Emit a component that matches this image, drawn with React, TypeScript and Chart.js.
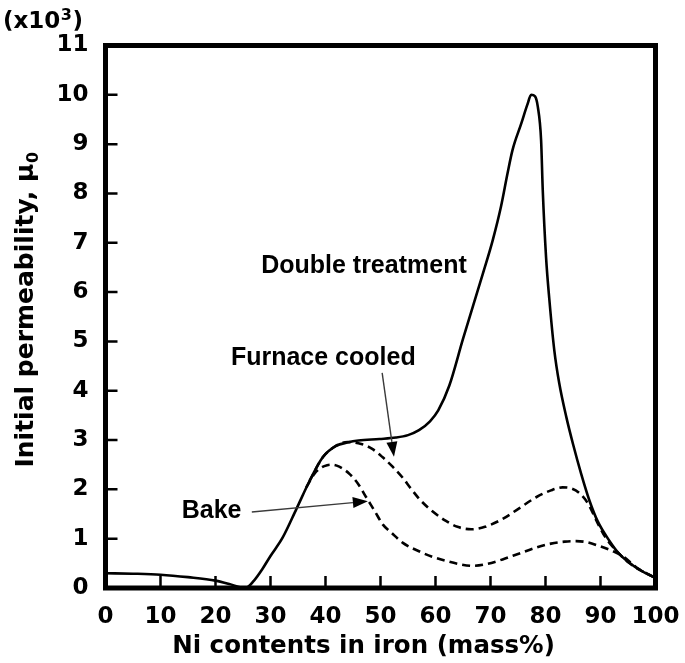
import React, { useEffect, useRef } from "react";
import { Chart, registerables } from "chart.js";

Chart.register(...registerables);

// Ni content in iron (mass%) against initial permeability (x10^3)
const NI_DOUBLE = [0, 5, 10, 15, 20, 22.5, 25.5, 27, 28.5, 30, 32.2, 34.7, 37.1, 39.5, 41.9, 44, 46, 49.8, 52.8, 55, 57, 59, 60.5, 62.5, 65, 68.6, 70.4, 71.9, 73.1, 74, 75.6, 76.7, 77.4, 78.1, 78.6, 79.2, 79.5, 80.1, 80.7, 81.6, 82.5, 83.8, 85, 86.5, 88, 89.5, 91.6, 93.5, 96.5, 100];
const MU_DOUBLE = [0.3, 0.29, 0.27, 0.22, 0.15, 0.08, 0.0, 0.15, 0.38, 0.65, 1.02, 1.6, 2.17, 2.65, 2.88, 2.95, 2.99, 3.02, 3.05, 3.1, 3.2, 3.38, 3.6, 4.1, 5.05, 6.37, 7.05, 7.73, 8.41, 8.88, 9.42, 9.8, 10.0, 9.97, 9.76, 9.08, 8.07, 6.71, 5.85, 4.82, 4.15, 3.46, 2.92, 2.31, 1.77, 1.35, 0.96, 0.68, 0.41, 0.2];

const NI_FURNACE = [37.1, 39.5, 41.9, 44, 46.5, 48.5, 50.4, 52.2, 54, 55.5, 57.1, 59.5, 61.9, 64, 66.5, 69, 72.2, 75, 78.3, 81, 83.1, 84.7, 86.2, 87.8, 89.2, 90.5, 91.9, 95.3, 100];
const MU_FURNACE = [2.17, 2.65, 2.88, 2.96, 2.92, 2.82, 2.65, 2.46, 2.24, 2.02, 1.8, 1.55, 1.36, 1.24, 1.19, 1.24, 1.4, 1.6, 1.84, 1.98, 2.04, 2.02, 1.92, 1.7, 1.38, 1.1, 0.88, 0.5, 0.2];

const NI_BAKE = [36.5, 38, 39.2, 40.3, 41.3, 42.5, 44.4, 46, 47.4, 49, 50.4, 52, 54, 57.1, 59.5, 61.9, 64.5, 66.8, 69.5, 72.2, 75, 78.3, 81, 83.5, 85.6, 87.5, 89.8, 92.2, 94, 96.5, 100];
const MU_BAKE = [2.04, 2.32, 2.44, 2.49, 2.5, 2.46, 2.31, 2.1, 1.84, 1.55, 1.29, 1.12, 0.92, 0.74, 0.63, 0.55, 0.48, 0.45, 0.49, 0.58, 0.69, 0.82, 0.9, 0.94, 0.95, 0.93, 0.85, 0.75, 0.65, 0.42, 0.2];

const X_TICKS = [0, 10, 20, 30, 40, 50, 60, 70, 80, 90, 100];
const Y_TICKS = [0, 1, 2, 3, 4, 5, 6, 7, 8, 9, 10, 11];

const X_TITLE = "Ni contents in iron (mass%)";
const Y_TITLE = "Initial permeability, \u03bc";
const Y_TITLE_SUB = "0";
const UNIT_PREFIX = "(x10";
const UNIT_EXP = "3";
const UNIT_SUFFIX = ")";

// curve names, anchored at their left baseline in data units
const CURVE_NOTES = [
  { text: "Double treatment", x: 28.3, y: 6.39 },
  { text: "Furnace cooled", x: 22.8, y: 4.52 },
  { text: "Bake", x: 13.85, y: 1.42 },
];

// pointer arrows from the names to their curves, in data units
const ARROWS = [
  { fromX: 50.3, fromY: 4.36, toX: 52.45, toY: 2.66 },
  { fromX: 26.6, fromY: 1.54, toX: 47.7, toY: 1.76 },
];

const AXIS_FONT = '"DejaVu Sans", "Liberation Sans", sans-serif';
const NOTE_FONT = '"Liberation Sans", Arial, sans-serif';

const toPoints = (xs: number[], ys: number[]) => xs.map((x, i) => ({ x, y: ys[i] }));

const decorPlugin = {
  id: "figureDecor",
  afterDatasetsDraw(chart: any) {
    const { ctx, chartArea: area, scales } = chart;
    const px = (v: number) => scales.x.getPixelForValue(v);
    const py = (v: number) => scales.y.getPixelForValue(v);
    ctx.save();

    // inward tick marks
    ctx.strokeStyle = "#000";
    ctx.lineWidth = 2.5;
    ctx.beginPath();
    for (const v of X_TICKS) {
      const x = px(v);
      ctx.moveTo(x, area.bottom);
      ctx.lineTo(x, area.bottom - 12);
    }
    for (const v of Y_TICKS) {
      const y = py(v);
      ctx.moveTo(area.left, y);
      ctx.lineTo(area.left + 12, y);
    }
    ctx.stroke();

    // heavy frame
    ctx.lineWidth = 5;
    ctx.lineJoin = "miter";
    ctx.strokeRect(area.left, area.top, area.right - area.left, area.bottom - area.top);

    // arrows
    for (const a of ARROWS) {
      const x0 = px(a.fromX), y0 = py(a.fromY), x1 = px(a.toX), y1 = py(a.toY);
      const ang = Math.atan2(y1 - y0, x1 - x0);
      const headLen = 15, headHalf = 5.5;
      const bx = x1 - headLen * Math.cos(ang);
      const by = y1 - headLen * Math.sin(ang);
      ctx.strokeStyle = "#3a3a3a";
      ctx.lineWidth = 1.4;
      ctx.beginPath();
      ctx.moveTo(x0, y0);
      ctx.lineTo(bx, by);
      ctx.stroke();
      ctx.fillStyle = "#000";
      ctx.beginPath();
      ctx.moveTo(x1, y1);
      ctx.lineTo(bx + headHalf * Math.sin(ang), by - headHalf * Math.cos(ang));
      ctx.lineTo(bx - headHalf * Math.sin(ang), by + headHalf * Math.cos(ang));
      ctx.closePath();
      ctx.fill();
    }

    // curve names
    ctx.fillStyle = "#000";
    ctx.font = `bold 25px ${NOTE_FONT}`;
    ctx.textAlign = "left";
    ctx.textBaseline = "alphabetic";
    for (const n of CURVE_NOTES) ctx.fillText(n.text, px(n.x), py(n.y));

    // x axis title
    ctx.font = `bold 24.5px ${AXIS_FONT}`;
    ctx.textAlign = "center";
    ctx.fillText(X_TITLE, 363.5, 653);

    // y axis title with subscript
    ctx.save();
    ctx.translate(33, 310);
    ctx.rotate(-Math.PI / 2);
    ctx.font = `bold 25px ${AXIS_FONT}`;
    const wMain = ctx.measureText(Y_TITLE).width;
    ctx.font = `bold 16px ${AXIS_FONT}`;
    const wSub = ctx.measureText(Y_TITLE_SUB).width;
    const start = -(wMain + wSub) / 2;
    ctx.textAlign = "left";
    ctx.font = `bold 25px ${AXIS_FONT}`;
    ctx.fillText(Y_TITLE, start, 0);
    ctx.font = `bold 16px ${AXIS_FONT}`;
    ctx.fillText(Y_TITLE_SUB, start + wMain + 0.5, 5);
    ctx.restore();

    // unit multiplier above the y axis
    ctx.textAlign = "left";
    ctx.font = `bold 23px ${AXIS_FONT}`;
    ctx.fillText(UNIT_PREFIX, 3, 28);
    const w1 = ctx.measureText(UNIT_PREFIX).width;
    ctx.font = `bold 16px ${AXIS_FONT}`;
    ctx.fillText(UNIT_EXP, 3 + w1 + 0.5, 20);
    const w2 = ctx.measureText(UNIT_EXP).width;
    ctx.font = `bold 23px ${AXIS_FONT}`;
    ctx.fillText(UNIT_SUFFIX, 3 + w1 + w2 + 1, 28);

    ctx.restore();
  },
};

export default function App() {
  const canvasRef = useRef<HTMLCanvasElement | null>(null);

  useEffect(() => {
    if (!canvasRef.current) return;
    const lineBase = {
      borderColor: "#000",
      borderWidth: 2.6,
      pointRadius: 0,
      pointHoverRadius: 0,
      fill: false,
      cubicInterpolationMode: "monotone" as const,
    };
    const tickFont = { family: AXIS_FONT, weight: "bold" as const, size: 23 };
    const chart = new Chart(canvasRef.current, {
      type: "line",
      data: {
        datasets: [
          { ...lineBase, label: "Double treatment", data: toPoints(NI_DOUBLE, MU_DOUBLE) },
          { ...lineBase, label: "Furnace cooled", data: toPoints(NI_FURNACE, MU_FURNACE), borderDash: [8, 5] },
          { ...lineBase, label: "Bake", data: toPoints(NI_BAKE, MU_BAKE), borderDash: [8, 5] },
        ],
      },
      options: {
        responsive: false,
        animation: false,
        layout: { padding: { left: 0, top: 45.5, right: 29.5, bottom: 0 } },
        plugins: { legend: { display: false }, tooltip: { enabled: false } },
        scales: {
          x: {
            type: "linear",
            min: 0,
            max: 100,
            grid: { display: false, drawTicks: false },
            border: { display: false },
            ticks: { font: tickFont, color: "#000", padding: 15, maxRotation: 0, autoSkip: false },
            afterBuildTicks: (s: any) => {
              s.ticks = X_TICKS.map((v) => ({ value: v }));
            },
            afterFit: (s: any) => {
              s.height = 75;
              s.paddingLeft = 0;
              s.paddingRight = 0;
            },
          },
          y: {
            type: "linear",
            min: 0,
            max: 11,
            grid: { display: false, drawTicks: false },
            border: { display: false },
            ticks: { font: tickFont, color: "#000", padding: 17, autoSkip: false },
            afterBuildTicks: (s: any) => {
              s.ticks = Y_TICKS.map((v) => ({ value: v }));
            },
            afterFit: (s: any) => {
              s.width = 105.5;
              s.paddingTop = 0;
              s.paddingBottom = 0;
            },
          },
        },
      },
      plugins: [decorPlugin],
    });
    return () => chart.destroy();
  }, []);

  return (
    <canvas
      ref={canvasRef}
      width={685}
      height={663}
      style={{ position: "absolute", left: 0, top: 0, display: "block", background: "#fff" }}
    />
  );
}
